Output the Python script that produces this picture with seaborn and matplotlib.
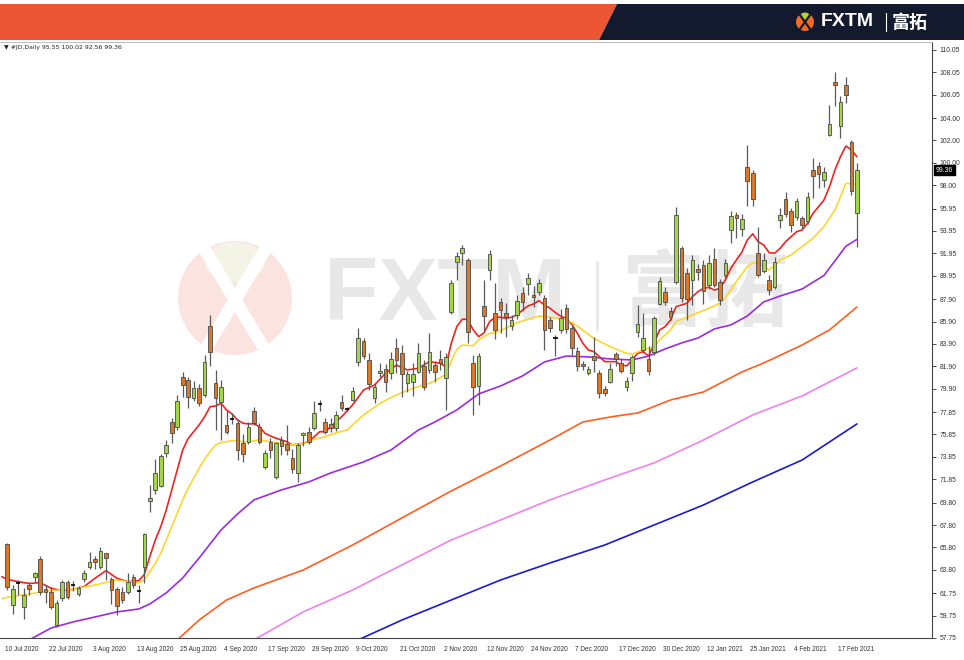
import numpy as np
import pandas as pd
import seaborn as sns
import matplotlib.pyplot as plt
from matplotlib import transforms
from matplotlib.patches import Polygon, Ellipse

# JD daily bars, 10 Jul 2020 .. 22 Feb 2021
opens = [66.1, 60.7, 62.65, 60.5, 62.5, 63.2, 64.8, 62.1, 61.85, 58.9,
         61.3, 62.7, 62.45, 61.7, 63.0, 64.1, 64.8, 64.1, 65.3, 63.0,
         62.1, 61.85, 61.85, 63.2, 61.95, 64.1, 69.9, 70.9, 71.3, 74.2,
         77.0, 76.55, 81.0, 80.7, 79.1, 80.0, 79.4, 85.5, 80.46, 78.7,
         76.7, 77.2, 76.9, 75.1, 75.2, 77.9, 76.55, 73.0, 75.2, 72.05,
         75.35, 75.0, 73.75, 72.4, 75.8, 76.05, 76.4, 78.55, 77.0, 76.8,
         76.4, 78.7, 78.1, 78.9, 82.33, 84.17, 82.5, 79.07, 81.3, 81.7,
         81.3, 83.5, 83.1, 80.4, 80.55, 81.45, 81.9, 81.6, 82.05, 82.6,
         80.85, 86.77, 91.2, 92.0, 91.4, 82.25, 80.2, 87.3, 90.5, 86.65,
         87.6, 86.65, 85.5, 86.5, 88.45, 89.25, 88.3, 88.55, 88.0, 86.0,
         84.4, 85.15, 87.1, 85.3, 83.3, 82.1, 81.3, 82.8, 81.35, 79.9,
         80.55, 83.0, 82.25, 80.05, 81.3, 85.0, 83.4, 82.6, 83.2, 87.5,
         88.55, 86.8, 89.45, 92.4, 90.25, 89.6, 90.6, 90.9, 89.15, 91.5,
         89.45, 90.05, 94.05, 95.4, 94.1, 99.6, 99.15, 92.0, 90.4, 89.6,
         89.0, 94.9, 96.8, 95.7, 95.2, 95.1, 94.8, 99.4, 99.75, 98.5,
         102.5, 107.2, 103.3, 106.95, 101.9, 95.55]
highs = [66.2, 62.5, 62.9, 62.2, 62.75, 63.6, 65.0, 62.5, 62.3, 61.1,
         62.9, 62.9, 62.8, 62.4, 63.8, 65.4, 65.0, 65.8, 65.35, 63.2,
         62.3, 62.3, 63.5, 63.4, 62.5, 67.1, 71.4, 73.7, 74.1, 75.35,
         77.3, 79.35, 81.44, 81.0, 80.6, 80.3, 82.9, 86.5, 81.6, 80.7,
         78.0, 77.8, 77.2, 75.9, 77.0, 78.3, 76.9, 74.5, 75.55, 75.2,
         75.7, 76.7, 74.6, 75.07, 76.1, 76.5, 78.8, 78.9, 77.3, 77.3,
         77.9, 79.35, 78.3, 80.1, 85.35, 84.4, 83.1, 80.4, 82.2, 82.1,
         83.2, 84.4, 83.8, 81.5, 82.2, 84.0, 82.5, 84.9, 82.35, 83.4,
         83.1, 89.6, 92.1, 92.7, 91.55, 82.9, 83.1, 89.6, 92.3, 89.3,
         88.0, 87.55, 86.5, 88.3, 89.0, 90.2, 89.1, 89.7, 88.3, 86.3,
         84.7, 87.0, 87.5, 85.5, 83.6, 82.4, 81.9, 84.55, 81.6, 80.2,
         82.2, 83.2, 82.6, 81.0, 82.9, 87.4, 86.65, 83.7, 86.4, 89.9,
         89.0, 87.2, 96.1, 92.6, 90.65, 91.8, 91.0, 91.4, 91.8, 92.45,
         89.7, 91.5, 95.7, 95.67, 95.5, 101.6, 99.4, 94.3, 92.0, 90.0,
         91.6, 96.0, 97.45, 96.0, 96.9, 95.3, 97.45, 100.4, 100.1, 99.6,
         105.16, 108.12, 105.96, 107.62, 102.05, 100.02]
lows = [62.0, 59.9, 61.6, 59.4, 61.6, 62.7, 61.6, 60.9, 60.3, 58.7,
        61.0, 61.2, 61.9, 61.5, 62.7, 63.9, 63.9, 63.9, 62.9, 60.8,
        59.8, 60.9, 61.7, 62.2, 60.9, 62.6, 69.0, 70.6, 71.2, 73.85,
        75.1, 76.25, 79.2, 78.2, 78.8, 78.4, 79.2, 81.9, 76.25, 75.4,
        75.9, 76.8, 73.6, 73.4, 75.0, 76.7, 75.0, 72.8, 73.8, 71.9,
        74.0, 74.0, 72.4, 71.65, 74.8, 75.0, 76.25, 77.9, 75.9, 76.1,
        76.2, 77.9, 77.9, 78.8, 81.95, 82.6, 79.8, 78.65, 81.0, 79.6,
        80.8, 81.3, 79.2, 79.6, 79.3, 81.3, 79.8, 81.3, 80.5, 81.6,
        78.0, 86.6, 89.6, 90.9, 84.0, 77.6, 78.5, 85.15, 89.6, 84.3,
        84.9, 84.5, 85.1, 86.1, 86.8, 88.3, 87.2, 88.3, 83.4, 85.0,
        82.8, 84.9, 84.9, 82.95, 81.5, 81.6, 81.1, 81.45, 79.1, 79.3,
        80.4, 81.9, 81.3, 79.75, 80.6, 84.55, 83.1, 81.1, 82.9, 87.4,
        87.4, 86.0, 89.2, 87.6, 86.0, 87.4, 89.6, 87.5, 88.8, 89.0,
        87.4, 89.8, 92.85, 93.3, 93.5, 96.2, 96.2, 89.9, 90.2, 88.3,
        88.8, 94.2, 95.2, 93.9, 94.95, 94.1, 94.6, 96.9, 97.8, 97.9,
        102.4, 105.07, 102.2, 105.36, 97.15, 92.56]
closes = [62.3, 62.1, 62.65, 61.6, 62.1, 63.5, 61.85, 61.8, 60.5, 60.9,
          62.7, 61.4, 62.45, 62.2, 63.5, 64.5, 64.5, 65.5, 64.9, 62.0,
          60.6, 61.1, 62.7, 62.5, 61.95, 67.0, 70.2, 72.45, 73.9, 74.9,
          76.0, 78.8, 80.25, 79.2, 80.0, 78.65, 82.3, 83.2, 79.07, 80.1,
          76.1, 77.2, 74.5, 74.1, 76.55, 76.9, 75.2, 74.2, 74.5, 75.05,
          74.8, 74.5, 72.75, 74.9, 76.0, 75.2, 77.75, 78.55, 76.1, 76.4,
          77.6, 78.2, 78.1, 79.7, 84.46, 82.84, 80.3, 80.1, 81.5, 80.55,
          82.6, 82.5, 81.2, 81.2, 81.2, 83.1, 80.1, 83.2, 81.45, 82.25,
          82.77, 89.35, 91.7, 92.4, 85.0, 80.1, 82.8, 86.4, 91.9, 85.15,
          86.9, 86.3, 86.0, 87.75, 87.6, 89.8, 88.1, 89.35, 85.1, 85.35,
          84.4, 86.2, 85.2, 83.5, 81.9, 81.9, 81.7, 82.45, 79.5, 79.5,
          81.7, 82.6, 81.5, 80.6, 82.7, 85.7, 84.4, 81.5, 86.2, 89.5,
          87.65, 86.3, 95.4, 88.0, 87.9, 91.4, 90.3, 88.65, 91.1, 89.15,
          87.8, 91.1, 95.3, 95.1, 95.0, 98.4, 96.8, 90.05, 91.4, 88.7,
          91.2, 95.4, 95.5, 94.5, 96.65, 94.5, 97.0, 98.8, 99.0, 99.2,
          103.45, 106.9, 105.45, 106.05, 97.55, 99.36]

# moving averages (bar index, value)
ma_red_idx = [-1, 0, 2, 4, 6, 8, 10, 12, 14, 16, 18, 20, 22, 24, 25, 26, 27, 28, 29, 30,
              31, 32, 33, 34, 35, 36, 37, 38, 39, 40, 41, 42, 43, 44, 45, 46, 47, 48, 49, 50,
              51, 52, 53, 54, 55, 56, 57, 58, 59, 61, 63, 65, 67, 69, 71, 73, 75, 77, 79, 80,
              81, 82, 83, 84, 85, 86, 87, 88, 89, 90, 91, 92, 93, 94, 95, 96, 97, 98, 99, 100,
              101, 102, 103, 104, 105, 106, 107, 108, 109, 110, 111, 112, 113, 114, 115, 116,
              117, 118, 119, 120, 121, 122, 123, 124, 125, 126, 127, 128, 129, 130, 131, 132,
              133, 134, 135, 136, 137, 138, 139, 140, 141, 142, 143, 144, 145, 146, 147, 148,
              149, 150, 151, 152, 153, 154, 155]
ma_red = [63.2, 62.97, 62.76, 62.6, 62.67, 62.17, 61.96, 62.08, 62.32, 63.06, 63.74, 63.06,
          62.76, 62.85, 63.4, 64.98, 66.47, 67.65, 69.14, 70.92, 72.7, 74.47, 75.5, 76.1, 76.7,
          77.43, 78.32, 78.39, 78.63, 78.03, 77.68, 77.14, 76.85, 76.79, 76.8, 76.55, 75.96,
          75.72, 75.52, 75.36, 75.21, 74.92, 75.0, 75.07, 75.21, 75.66, 76.1, 76.1, 76.55,
          77.43, 78.48, 79.81, 80.25, 81.3, 82.03, 81.59, 81.74, 82.33, 82.18, 81.88, 83.96,
          85.44, 86.1, 86.1, 85.15, 84.55, 84.9, 85.9, 86.28, 86.28, 86.19, 86.28, 86.48,
          86.92, 87.28, 87.46, 87.75, 87.37, 87.08, 86.69, 86.36, 86.19, 85.65, 84.85, 83.96,
          83.37, 83.22, 82.77, 82.33, 82.33, 82.33, 82.03, 81.95, 82.48, 83.07, 83.22, 82.83,
          83.96, 85.15, 85.44, 86.04, 87.22, 87.37, 87.52, 88.11, 88.55, 88.85, 88.94, 88.7,
          88.85, 89.59, 90.63, 91.37, 92.05, 93.15, 93.7, 93.0, 92.7, 92.02, 91.97, 92.41,
          93.0, 93.44, 93.89, 94.04, 94.63, 95.53, 96.11, 96.71, 97.89, 99.38, 100.56, 101.51,
          101.16, 100.56]
ma_yel_idx = [-1, 0, 4, 8, 12, 16, 20, 22, 24, 25, 26, 27, 28, 29, 30, 31, 32, 33, 34, 35,
              36, 37, 38, 39, 40, 41, 42, 43, 44, 46, 48, 50, 52, 54, 56, 58, 60, 62, 65, 68,
              71, 74, 77, 79, 80, 81, 82, 83, 85, 86, 88, 89, 91, 93, 95, 97, 99, 102, 104, 107,
              110, 113, 114, 116, 118, 119, 121, 122, 125, 128, 130, 131, 133, 135, 136, 137,
              139, 141, 143, 145, 147, 149, 151, 152, 153, 154, 155]
ma_yel = [61.25, 61.37, 61.67, 61.96, 62.08, 62.47, 62.91, 62.76, 62.67, 62.91, 63.65, 64.4,
          65.28, 66.47, 67.65, 68.84, 70.03, 71.07, 71.96, 72.85, 73.65, 74.32, 74.92, 75.12,
          75.21, 75.3, 75.3, 75.21, 75.21, 75.36, 75.21, 75.07, 74.92, 75.07, 75.43, 75.66,
          76.0, 76.25, 77.59, 78.63, 79.37, 79.96, 80.4, 80.9, 81.2, 82.4, 83.4, 83.8, 83.75,
          84.26, 84.85, 84.9, 85.3, 85.8, 86.1, 86.39, 86.28, 86.1, 85.5, 84.4, 83.66, 83.07,
          83.0, 83.37, 83.66, 84.26, 85.15, 85.89, 86.48, 87.07, 87.52, 88.0, 89.44, 90.78,
          91.13, 91.1, 90.48, 91.37, 91.82, 92.56, 93.3, 94.34, 95.82, 97.0, 98.2, 98.13, 98.13]
ma_pur_idx = [4, 8, 12, 16, 20, 24, 26, 29, 32, 35, 39, 42, 45, 50, 55, 59, 65, 70, 75, 78,
              82, 86, 90, 94, 98, 102, 106, 110, 114, 117, 120, 123, 126, 129, 132, 135, 138,
              141, 145, 149, 151, 153, 155]
ma_pur = [57.58, 58.64, 59.18, 59.62, 60.07, 60.33, 60.78, 61.76, 63.09, 64.87, 67.36, 68.78,
          70.03, 70.92, 71.63, 72.43, 73.41, 74.47, 76.25, 76.96, 78.03, 79.46, 80.17, 81.06,
          82.3, 82.83, 82.75, 82.57, 82.48, 82.83, 83.46, 83.99, 84.43, 85.24, 85.59, 86.39,
          87.64, 88.17, 88.79, 90.0, 91.3, 92.6, 93.2]
ma_org_idx = [31, 35, 40, 45, 54, 63, 72, 81, 90, 99, 105, 110, 115, 121, 127, 134, 138, 145,
              150, 155]
ma_org = [57.58, 59.35, 61.13, 62.2, 63.8, 66.02, 68.43, 70.83, 73.05, 75.36, 76.96, 77.41,
          77.76, 78.92, 79.63, 81.41, 82.21, 83.81, 85.15, 87.19]
ma_vio_idx = [45, 54, 63, 72, 81, 90, 99, 109, 118, 127, 136, 145, 155]
ma_vio = [57.58, 60.07, 62.02, 64.25, 66.47, 68.25, 70.03, 71.81, 73.32, 75.36, 77.59, 79.28,
          81.77]
ma_blu_idx = [64, 72, 81, 90, 99, 109, 118, 127, 136, 145, 155]
ma_blu = [57.58, 59.35, 61.13, 62.91, 64.42, 66.02, 67.8, 69.58, 71.63, 73.58, 76.79]

date_labels = ["10 Jul 2020", "22 Jul 2020", "3 Aug 2020", "13 Aug 2020", "25 Aug 2020",
               "4 Sep 2020", "17 Sep 2020", "29 Sep 2020", "9 Oct 2020", "21 Oct 2020",
               "2 Nov 2020", "12 Nov 2020", "24 Nov 2020", "7 Dec 2020", "17 Dec 2020",
               "30 Dec 2020", "12 Jan 2021", "25 Jan 2021", "4 Feb 2021", "17 Feb 2021"]
price_ticks = [110.05, 108.05, 106.05, 104.00, 102.00, 100.00, 98.00, 95.95, 93.95, 91.95,
               89.95, 87.90, 85.90, 83.90, 81.90, 79.90, 77.85, 75.85, 73.85, 71.85, 69.80,
               67.80, 65.80, 63.80, 61.75, 59.75, 57.75]

sns.set_theme(style="white")
plt.rcParams['font.family'] = ['DejaVu Sans', 'Noto Sans CJK SC']

W, H = 964, 660
def fx(px):
    return px / W
def fy(py):
    return 1 - py / H

fig = plt.figure(figsize=(W / 100, H / 100), dpi=100)
fig.patch.set_facecolor("white")
ax = fig.add_axes([0, fy(638), fx(932), fy(42) - fy(638)])
ax.set_facecolor("white")

# header band
fig.patches.append(Polygon([(0, fy(4)), (fx(617), fy(4)), (fx(599), fy(40)), (0, fy(40))],
                           closed=True, transform=fig.transFigure, fc="#EC5634", ec="none"))
fig.patches.append(Polygon([(fx(617), fy(4)), (1, fy(4)), (1, fy(40)), (fx(599), fy(40))],
                           closed=True, transform=fig.transFigure, fc="#141A2E", ec="none"))
fig.patches.append(Ellipse((fx(805), fy(22)), 18 / W, 18 / H, transform=fig.transFigure,
                           fc="#F26B21", ec="none"))
fig.patches.append(Ellipse((fx(805), fy(16)), 9 / W, 7 / H, transform=fig.transFigure,
                           fc="#B5D334", ec="none"))
fig.lines.append(plt.Line2D([fx(800), fx(810)], [fy(15), fy(29)], transform=fig.transFigure,
                            color="#141A2E", lw=1.6))
fig.lines.append(plt.Line2D([fx(810), fx(800)], [fy(15), fy(29)], transform=fig.transFigure,
                            color="#141A2E", lw=1.6))
fig.text(fx(821), fy(22), "FXTM", color="white", fontsize=14, fontweight="bold",
         family="Liberation Sans", va="center", ha="left")
fig.lines.append(plt.Line2D([fx(886), fx(886)], [fy(13), fy(31)], transform=fig.transFigure,
                            color="white", lw=0.8))
fig.text(fx(892), fy(22), "富拓", color="white", fontsize=13, fontweight="bold",
         family=["Noto Sans CJK SC"], va="center", ha="left")

# watermark
wm = "#E8E8E8"
ax.add_patch(Ellipse((fx(235), fy(298)), 114 / W, 114 / H, transform=fig.transFigure,
                     fc="#FBE3DF", ec="none", zorder=0.3, clip_on=False))
ax.add_patch(Ellipse((fx(235), fy(262)), 60 / W, 40 / H, transform=fig.transFigure,
                     fc="#F3F3E6", ec="none", zorder=0.31, clip_on=False))
ax.plot([fx(205), fx(265)], [fy(250), fy(350)], transform=fig.transFigure, color="white",
        lw=9, zorder=0.32, clip_on=False, solid_capstyle="round")
ax.plot([fx(265), fx(205)], [fy(250), fy(350)], transform=fig.transFigure, color="white",
        lw=9, zorder=0.32, clip_on=False, solid_capstyle="round")
ax.text(fx(445), fy(297), "FXTM", transform=fig.transFigure, color=wm, fontsize=64,
        fontweight="bold", family="Liberation Sans", ha="center", va="center", zorder=0.4)
ax.plot([fx(597), fx(597)], [fy(262), fy(330)], transform=fig.transFigure, color=wm, lw=2,
        zorder=0.4)
ax.text(fx(705), fy(295), "富拓", transform=fig.transFigure, color=wm, fontsize=60,
        fontweight="bold", family=["Noto Sans CJK SC"], ha="center", va="center", zorder=0.4)

# moving averages
ma_sets = [("red", ma_red_idx, ma_red), ("yellow", ma_yel_idx, ma_yel),
           ("purple", ma_pur_idx, ma_pur), ("orange", ma_org_idx, ma_org),
           ("violet", ma_vio_idx, ma_vio), ("blue", ma_blu_idx, ma_blu)]
ma_df = pd.concat([pd.DataFrame({"i": idx, "v": val, "ma": name}) for name, idx, val in ma_sets])
palette = {"red": "#F22222", "yellow": "#FFD52E", "purple": "#9A2BE0", "orange": "#FF5E1F",
           "violet": "#EE82EE", "blue": "#1A1AD0"}
sns.lineplot(data=ma_df, x="i", y="v", hue="ma", units="ma", palette=palette, estimator=None,
             sort=False, lw=1.2, legend=False, ax=ax, zorder=2)

# candles
bars = pd.DataFrame({"o": opens, "h": highs, "l": lows, "c": closes})
bars["i"] = np.arange(len(bars))
up = bars["c"] > bars["o"] + 0.03
down = bars["c"] < bars["o"] - 0.03
flat = ~(up | down)
ax.vlines(bars["i"], bars["l"], bars["h"], color="#5A5A5A", lw=0.9, zorder=3)
for mask, fc in [(up, "#A3D54A"), (down, "#D9782A")]:
    b = bars[mask]
    ax.bar(b["i"], (b["c"] - b["o"]).abs(), bottom=np.minimum(b["o"], b["c"]), width=0.66,
           color=fc, edgecolor="#4A4A4A", linewidth=0.6, zorder=4)
f = bars[flat]
ax.hlines(f["c"], f["i"] - 0.4, f["i"] + 0.4, color="black", lw=1.2, zorder=4)

ax.set_xlim(-1.33, 168.7)
ax.set_ylim(57.75, 110.76)

# right price scale
ax.yaxis.tick_right()
ax.set_yticks(price_ticks)
ax.set_yticklabels([f"{v:.2f}" for v in price_ticks], fontsize=4.9, color="#333333",
                   family="Liberation Sans")
ax.tick_params(axis="y", direction="out", length=3, width=0.6, pad=2.5, color="#333333")

# date scale
tick_pos = np.arange(0, len(bars), 8)[:len(date_labels)] - 0.6
ax.set_xticks(tick_pos)
ax.set_xticklabels(date_labels, fontsize=4.7, color="#333333", ha="left",
                   family="Liberation Sans")
ax.tick_params(axis="x", direction="out", length=4, width=0.6, pad=2, color="#333333")
shift = transforms.ScaledTranslation(1 / 100, 0, fig.dpi_scale_trans)
for lab in ax.get_xticklabels():
    lab.set_transform(lab.get_transform() + shift)
ax.set_xlabel("")
ax.set_ylabel("")

ax.spines["left"].set_visible(False)
ax.spines["top"].set_color("#B0B0B0")
ax.spines["top"].set_linewidth(0.6)
for side in ["right", "bottom"]:
    ax.spines[side].set_color("#444444")
    ax.spines[side].set_linewidth(0.8)

# last price tag and info line
trans = transforms.blended_transform_factory(ax.transAxes, ax.transData)
ax.text(1.004, closes[-1], f"{closes[-1]:.2f}", transform=trans, fontsize=4.9, color="white",
        va="center", ha="left", clip_on=False, zorder=10, family="Liberation Sans",
        bbox=dict(boxstyle="square,pad=0.25", fc="black", ec="black"))
fig.text(fx(4), fy(47), f"▼ #JD.Daily {opens[-1]:.2f} {highs[-1]:.2f} {lows[-1]:.2f} {closes[-1]:.2f}",
         fontsize=4.4, color="#222222", va="center", ha="left")

fig.savefig("out.png", dpi=100)
